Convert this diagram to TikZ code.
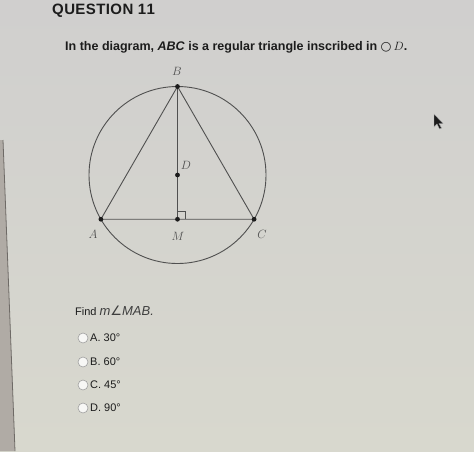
\documentclass[tikz,border=0pt]{standalone}
\usepackage{fontspec}
\setmainfont{Liberation Sans}
\newfontfamily\symfont{DejaVu Sans}
\usetikzlibrary{calc}
\definecolor{bgtop}{HTML}{D0CFCE}
\definecolor{bgbot}{HTML}{D8D8CE}
\definecolor{ink}{HTML}{1C1C1C}
\definecolor{geo}{HTML}{505050}
\begin{document}
\begin{tikzpicture}[x=1pt,y=-1pt,
  geoline/.style={draw=geo,line width=0.9pt},
  ptdot/.style={circle,fill=ink,inner sep=0pt,minimum size=4.8pt},
  ptlabel/.style={font=\fontsize{13}{13}\selectfont, text=geo},
  radio/.style={circle,draw=gray!75,fill=white!80!bgbot,line width=0.6pt,inner sep=0pt,minimum size=10pt},
  opttext/.style={anchor=west,font=\fontsize{11}{12}\selectfont,text=ink,inner sep=0pt}]
\useasboundingbox (0,0) rectangle (474,451);
\shade[top color=bgtop,bottom color=bgbot] (0,0) rectangle (474,451);
% screen bezel at left
\fill[color={rgb,255:red,176;green,171;blue,165}] (0,140) -- (3,140) -- (15,451) -- (0,451) -- cycle;
\draw[color={rgb,255:red,110;green,106;blue,102},line width=0.8pt] (3,140) -- (15,451);
% title and question
\node[anchor=west,inner sep=0pt,text=ink,font=\fontsize{15}{16}\selectfont\bfseries] (title) at (52,11) {Q\kern0.4pt U\kern0.4pt E\kern0.4pt S\kern0.4pt T\kern0.4pt I\kern0.4pt O\kern0.4pt N\kern0.4pt\ 1\kern0.4pt 1};
\node[anchor=west,inner sep=0pt,text=ink,font=\fontsize{12.5}{14}\selectfont\bfseries] (quest) at (65,47)
  {In the diagram, \textit{ABC} is a regular triangle inscribed in {\mdseries\symfont ○}\,$D$.};
% geometry
\coordinate (D) at (177.5,175);
\coordinate (B) at (177.5,86.5);
\coordinate (A) at (100.9,219.25);
\coordinate (C) at (254.1,219.25);
\coordinate (M) at (177.5,219.25);
\draw[geoline] (D) circle (88.5);
\draw[geoline] (A) -- (B) -- (C) -- cycle;
\draw[geoline] (B) -- (M);
\draw[geoline,line width=0.6pt] ($(M)+(0,-7.5)$) -- ++(7.5,0) -- ++(0,7.5);
\node[ptdot] (nB) at (B) {};
\node[ptdot] (nD) at (D) {};
\node[ptdot] (nA) at (A) {};
\node[ptdot] (nC) at (C) {};
\node[ptdot] (nM) at (M) {};
\node[ptlabel] (lB) at (177,71) {$B$};
\node[ptlabel] (lD) at (186,165) {$D$};
\node[ptlabel] (lA) at (93,234) {$A$};
\node[ptlabel] (lM) at (178,236) {$M$};
\node[ptlabel] (lC) at (262,234) {$C$};
% find
\node[anchor=west,inner sep=0pt,text=ink,font=\fontsize{11}{13}\selectfont] (find) at (75,311)
  {Find {\itshape\fontsize{13}{13}\selectfont\color{ink!85} m{\symfont ∠}MAB.}};
% options
\node[radio] (r1) at (83,338) {};
\node[radio] (r2) at (83,362) {};
\node[radio] (r3) at (83,385) {};
\node[radio] (r4) at (83,408) {};
\node[opttext] (o1) at (90,338) {A. 30°};
\node[opttext] (o2) at (90,362) {B. 60°};
\node[opttext] (o3) at (90,385) {C. 45°};
\node[opttext] (o4) at (90,408) {D. 90°};
% mouse pointer
\fill[ink,draw=gray!60,line width=0.4pt] (434,114) -- (434,127) -- (437,124) -- (439.5,129) -- (441.5,128) -- (439,123.5) -- (443,123.5) -- cycle;
\end{tikzpicture}
\end{document}
